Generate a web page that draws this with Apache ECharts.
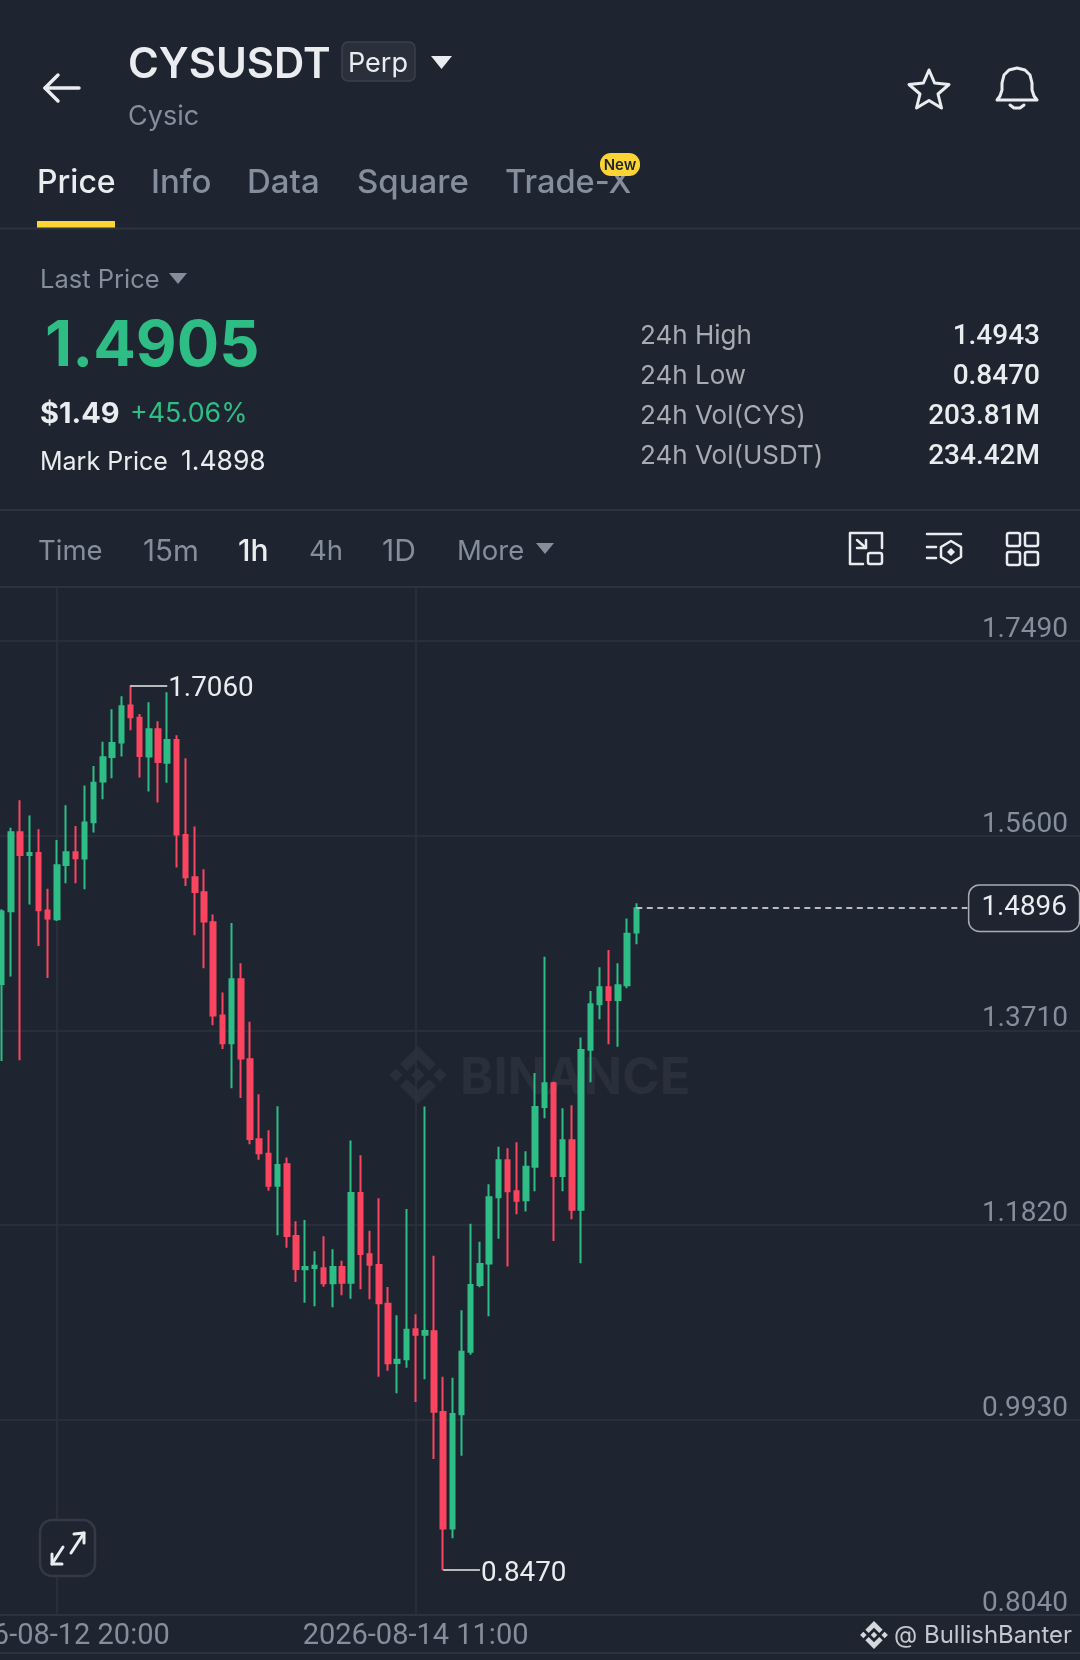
<!DOCTYPE html>
<html><head><meta charset="utf-8">
<style>html,body{margin:0;padding:0;background:#1f2530}#c{width:1080px;height:1660px}</style>
<script src="https://cdn.jsdelivr.net/npm/echarts@6/dist/echarts.min.js"></script>
</head><body><div id="c"></div>
<script>
const categories = ['2026-08-12 14:00','2026-08-12 15:00','2026-08-12 16:00','2026-08-12 17:00','2026-08-12 18:00','2026-08-12 19:00','2026-08-12 20:00','2026-08-12 21:00','2026-08-12 22:00','2026-08-12 23:00',
'2026-08-13 00:00','2026-08-13 01:00','2026-08-13 02:00','2026-08-13 03:00','2026-08-13 04:00','2026-08-13 05:00','2026-08-13 06:00','2026-08-13 07:00','2026-08-13 08:00','2026-08-13 09:00',
'2026-08-13 10:00','2026-08-13 11:00','2026-08-13 12:00','2026-08-13 13:00','2026-08-13 14:00','2026-08-13 15:00','2026-08-13 16:00','2026-08-13 17:00','2026-08-13 18:00','2026-08-13 19:00',
'2026-08-13 20:00','2026-08-13 21:00','2026-08-13 22:00','2026-08-13 23:00','2026-08-14 00:00','2026-08-14 01:00','2026-08-14 02:00','2026-08-14 03:00','2026-08-14 04:00','2026-08-14 05:00',
'2026-08-14 06:00','2026-08-14 07:00','2026-08-14 08:00','2026-08-14 09:00','2026-08-14 10:00','2026-08-14 11:00','2026-08-14 12:00','2026-08-14 13:00','2026-08-14 14:00','2026-08-14 15:00',
'2026-08-14 16:00','2026-08-14 17:00','2026-08-14 18:00','2026-08-14 19:00','2026-08-14 20:00','2026-08-14 21:00','2026-08-14 22:00','2026-08-14 23:00','2026-08-15 00:00','2026-08-15 01:00',
'2026-08-15 02:00','2026-08-15 03:00','2026-08-15 04:00','2026-08-15 05:00','2026-08-15 06:00','2026-08-15 07:00','2026-08-15 08:00','2026-08-15 09:00','2026-08-15 10:00','2026-08-15 11:00'];
const opens = [1.4161,1.4866,1.5633,1.5413,1.5433,1.4873,1.4789,1.5316,1.5439,1.5378,
1.5730,1.6125,1.6364,1.6504,1.6863,1.6746,1.6368,1.6633,1.6309,1.6529,
1.5607,1.5196,1.5051,1.4760,1.3854,1.3585,1.4206,1.3429,1.2653,1.2513,
1.2203,1.2410,1.1714,1.1391,1.1404,1.1400,1.1255,1.1413,1.1261,1.2132,
1.1536,1.1433,1.1057,1.0481,1.0517,1.0808,1.0756,1.0789,1.0006,0.8876,
0.9983,1.0591,1.1239,1.1446,1.2090,1.2449,1.2148,1.2061,1.2387,1.2967,
1.3196,1.2297,1.2643,1.1970,1.3523,1.3963,1.4128,1.4005,1.4148,1.4659];
const closes = [1.4863,1.5633,1.5413,1.5433,1.4876,1.4795,1.5313,1.5439,1.5381,1.5727,
1.6115,1.6361,1.6500,1.6856,1.6749,1.6374,1.6633,1.6316,1.6529,1.5611,
1.5196,1.5054,1.4766,1.3854,1.3585,1.4206,1.3436,1.2656,1.2517,1.2203,
1.2403,1.1714,1.1394,1.1413,1.1426,1.1255,1.1413,1.1261,1.2132,1.1539,
1.1436,1.1061,1.0478,1.0514,1.0805,1.0756,1.0792,1.0009,0.8876,0.9986,
1.0591,1.1239,1.1442,1.2090,1.2449,1.2148,1.2057,1.2387,1.2967,1.3196,
1.2297,1.2643,1.1970,1.3520,1.3963,1.4128,1.4005,1.4148,1.4649,1.4896];
const lows = [1.3414,1.4232,1.3420,1.4931,1.4530,1.4219,1.4773,1.5138,1.5138,1.5080,
1.5630,1.5954,1.6157,1.6368,1.6623,1.6164,1.6028,1.5921,1.6115,1.5290,
1.5112,1.4633,1.4313,1.3760,1.3530,1.3148,1.3054,1.2604,1.2455,1.2154,
1.1721,1.1601,1.1268,1.1067,1.1031,1.1222,1.1022,1.1138,1.1106,1.1197,
1.1099,1.0349,1.0407,1.0187,1.0436,1.0103,1.0323,0.9549,0.8470,0.8779,
0.9582,1.0562,1.1216,1.0934,1.1688,1.1417,1.1925,1.1951,1.2148,1.2857,
1.1666,1.2148,1.1876,1.1449,1.3206,1.3818,1.3575,1.3552,1.4118,1.4546];
const highs = [1.4886,1.5678,1.5944,1.5795,1.5662,1.5086,1.5559,1.5895,1.5695,1.6086,
1.6277,1.6513,1.6827,1.6953,1.7060,1.6782,1.6895,1.6711,1.6992,1.6575,
1.6351,1.5688,1.5274,1.4834,1.4077,1.4753,1.4362,1.3795,1.3089,1.2740,
1.2973,1.2475,1.1857,1.1869,1.1565,1.1711,1.1585,1.1475,1.2640,1.2497,
1.1766,1.2080,1.1219,1.0944,1.1976,1.0954,1.2970,1.1523,1.0349,1.0339,
1.0993,1.1834,1.1659,1.2216,1.2581,1.2565,1.2623,1.2536,1.3297,1.4426,
1.3212,1.2954,1.2983,1.3640,1.4093,1.4322,1.4491,1.4361,1.4795,1.4943];
const priceTicks = [0.804,0.993,1.182,1.371,1.56,1.749];
const timeTicks = ['2026-08-12 20:00','2026-08-14 11:00'];
const lastPrice = 1.4896;
const statLabels = ['24h High','24h Low','24h Vol(CYS)','24h Vol(USDT)'];
const statValues = ['1.4943','0.8470','203.81M','234.42M'];
const tabs = ['Price','Info','Data','Square','Trade-X'];
const intervals = ['Time','15m','1h','4h','1D','More'];

const FONT = 'Inter', NUM = 'Roboto';
const BG='#1f2530', LINE='#2d333e', GREY='#848e9c', SOFT='#a7acb3', WHITE='#eaecef', UP='#2ebd85', DOWN='#fb4560';
const fullCats = [''].concat(categories, new Array(49).fill(''));
const candleData = ['-'].concat(categories.map((c,i)=>[opens[i],closes[i],lows[i],highs[i]]));
const hi = highs.indexOf(Math.max(...highs))+1, lo = lows.indexOf(Math.min(...lows))+1;
const last = categories.length;

const T=(x,y,text,size,fill,weight,align,extra,font)=>Object.assign({type:'text',x,y,silent:true,style:{text,fontFamily:font||FONT,fontSize:size,fontWeight:weight||400,fill,textAlign:align||'left',textVerticalAlign:'middle'}},extra||{});
const L=(pts,stroke,w,closed)=>({type:closed?'polygon':'polyline',silent:true,shape:{points:pts},style:{stroke,lineWidth:w,fill:null,lineCap:'round',lineJoin:'round'}});
const R=(x,y,w,h,r,stroke,sw,fill)=>({type:'rect',silent:true,shape:{x,y,width:w,height:h,r},style:{stroke,lineWidth:sw,fill:fill||null}});
const Tri=(pts,fill)=>({type:'polygon',silent:true,shape:{points:pts},style:{fill}});
const HL=(y)=>({type:'line',silent:true,shape:{x1:0,y1:y,x2:1080,y2:y},style:{stroke:LINE,lineWidth:2}});
const Diamond=(cx,cy,r,fill,z)=>({type:'polygon',silent:true,z:z||0,shape:{points:[[cx,cy-r],[cx+r,cy],[cx,cy+r],[cx-r,cy]]},style:{fill}});
function logo(cx,cy,s,fill,z){
  const mk=(pts)=>({type:'polygon',silent:true,z:z||0,shape:{points:pts.map(p=>[cx+p[0]*s,cy+p[1]*s])},style:{fill}});
  return [
    mk([[0,-1],[0.62,-0.38],[0.38,-0.14],[0,-0.52],[-0.38,-0.14],[-0.62,-0.38]]),
    mk([[0,1],[0.62,0.38],[0.38,0.14],[0,0.52],[-0.38,0.14],[-0.62,0.38]]),
    Diamond(cx,cy,0.23*s,fill,z),Diamond(cx-0.76*s,cy,0.23*s,fill,z),Diamond(cx+0.76*s,cy,0.23*s,fill,z)
  ];
}
const tabX=[37,151,247,357,505];
const tabSize=[32,33,33,33,32.6];
const intX=[38,143,238,309,382,457];
const intSize=[27.5,29.5,30,27.5,30,27.5];
const statY=[337,377,417,457];

const elements=[
  // watermark
  ...logo(418,1075,29,'#2a303b',-1),
  T(460,1079,'BINANCE',50.5,'#2a303b',700,'left',{z:-1}),
  // header
  L([[79,88],[45,88]],WHITE,3.5),L([[58,75],[45,88],[58,101]],WHITE,3.5),
  T(128,65,'CYSUSDT',41.9,WHITE,600),
  R(342,42,73,39,6,'#3a404c',1.5,'#2a303b'),
  T(378,64,'Perp',27,WHITE,400,'center'),
  Tri([[431,56],[452,56],[441.5,69]],WHITE),
  T(128,117,'Cysic',27,GREY),
  L([[929,70],[934.6,83],[949,84.5],[938,94],[941.5,108],[929,100.5],[916.5,108],[920,94],[909,84.5],[923.4,83]],WHITE,3,true),
  L([[1017,68],[1009,70],[1004,75],[1002,83],[1002,90],[1000,96],[997,100],[1037,100],[1034,96],[1032,90],[1032,83],[1030,75],[1025,70]],WHITE,3,true),
  L([[1010,105],[1014,108],[1020,108],[1024,105]],WHITE,3),
  ...tabs.map((t,i)=>T(tabX[i],183,t,tabSize[i],i===0?WHITE:GREY,500)),
  R(600,153,40,23,11,null,0,'#fcd535'),
  T(620,165,'New',15,'#1e2329',600,'center'),
  R(37,221,78,7,0,null,0,'#fcd535'),
  HL(228.5),
  T(40,280,'Last Price',25.5,GREY),
  Tri([[169,273],[187,273],[178,284]],GREY),
  T(45,347,'1.4905',63,UP,700),
  T(40,414,'$1.49',29,WHITE,700),
  T(130,414,'+45.06%',26.8,UP,400),
  T(40,462,'Mark Price',25,WHITE),
  T(181,462,'1.4898',26.5,WHITE),
  ...statLabels.map((t,i)=>T(640,statY[i]-1,t,26,SOFT)),
  ...statValues.map((t,i)=>T(1040,statY[i],t,28,WHITE,500,'right',null,NUM)),
  HL(510),HL(587),
  ...intervals.map((t,i)=>T(intX[i],552,t,intSize[i],i===2?WHITE:GREY,i===2?500:400)),
  Tri([[536,543],[554,543],[545,554]],GREY),
  // toolbar icons
  L([[882,548],[882,533],[850,533],[850,564],[863,564]],WHITE,2.5),
  R(868,553,14,11,2,WHITE,2.5),
  L([[857,540],[866,548]],WHITE,2.5),L([[857,548],[866,548],[866,540]],WHITE,2.5),
  L([[927,534],[961,534]],WHITE,2.5),L([[927,547],[936,547]],WHITE,2.5),L([[927,558],[936,558]],WHITE,2.5),
  L([[951,541],[961,547],[961,557],[951,563],[941,557],[941,547]],WHITE,2.5,true),
  Diamond(951,552,4,WHITE),
  R(1007,533,13,13,2,WHITE,2.5),R(1025,533,13,13,2,WHITE,2.5),R(1007,552,13,13,2,WHITE,2.5),R(1025,552,13,13,2,WHITE,2.5),
  // expand button
  {...R(40,1520,55,56,12,'#343a45',2.5,BG),z:5},
  {...L([[84,1533],[71,1553]],WHITE,3),z:6},{...L([[74,1534],[84,1533],[84,1543]],WHITE,3),z:6},
  {...L([[52,1564],[63,1547]],WHITE,3),z:6},{...L([[52,1554],[52,1564],[62,1564]],WHITE,3),z:6},
  // footer
  HL(1653),
  ...logo(874,1635,14,'#d5d8dc',3),
  T(894,1636,'@ BullishBanter',24,'#c4c8ce',400,'left')
];

const noteLabel={show:true,position:'end',color:WHITE,fontSize:27.8,fontFamily:NUM};
const chart=echarts.init(document.getElementById('c'),null,{renderer:'canvas'});
chart.setOption({
  animation:false,
  backgroundColor:BG,
  textStyle:{fontFamily:FONT},
  graphic:{elements},
  grid:{left:-7.5,width:119*9.197,top:587,height:1027.5,containLabel:false,outerBoundsMode:'none'},
  xAxis:{type:'category',data:fullCats,boundaryGap:false,
    axisLine:{lineStyle:{color:LINE,width:2}},axisTick:{show:false},
    axisLabel:{color:GREY,fontSize:29,fontFamily:NUM,margin:8,hideOverlap:false,
      interval:(i,v)=>timeTicks.includes(v)},
    splitLine:{show:true,lineStyle:{color:LINE,width:1.5},interval:(i,v)=>timeTicks.includes(v)}},
  yAxis:{type:'value',position:'right',min:0.804,max:1.8014,scale:true,
    axisLine:{show:false},
    axisTick:{show:false,customValues:priceTicks},
    axisLabel:{inside:true,color:GREY,fontSize:28,fontFamily:NUM,margin:19,verticalAlign:'bottom',align:'right',lineHeight:22,
      customValues:priceTicks,formatter:v=>v.toFixed(4)},
    splitLine:{show:true,lineStyle:{color:LINE,width:1.5}}},
  series:[{type:'candlestick',data:candleData,barWidth:5,clip:false,
    itemStyle:{color:UP,color0:DOWN,borderColor:UP,borderColor0:DOWN,borderWidth:2},
    markLine:{silent:true,animation:false,symbol:'none',precision:4,
      data:[
        [{coord:[hi,highs[hi-1]],lineStyle:{color:WHITE,width:1.5,type:'solid'},label:{...noteLabel,formatter:highs[hi-1].toFixed(4),distance:1,offset:[0,4]}},{coord:[hi+4,highs[hi-1]]}],
        [{coord:[lo,lows[lo-1]],lineStyle:{color:WHITE,width:1.5,type:'solid'},label:{...noteLabel,formatter:lows[lo-1].toFixed(4),distance:1,offset:[0,4]}},{coord:[lo+4,lows[lo-1]]}],
        [{coord:[last,lastPrice],lineStyle:{color:'#b7bbc2',width:2,type:[6,4.5]},label:{...noteLabel,formatter:lastPrice.toFixed(4),distance:2,
          backgroundColor:BG,borderColor:SOFT,borderWidth:1.5,borderRadius:10,lineHeight:25,padding:[13,12,7,12]}},{coord:[last+36,lastPrice]}]
      ]}
  }]
});
</script></body></html>
